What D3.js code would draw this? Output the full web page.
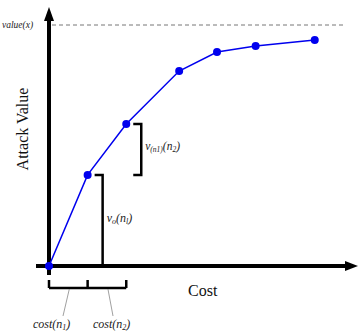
<!DOCTYPE html>
<html>
<head>
<meta charset="utf-8">
<script src="https://cdn.jsdelivr.net/npm/d3@7"></script>
<style>
  html, body { margin: 0; padding: 0; background: #fff; }
</style>
</head>
<body>
<svg id="chart" width="363" height="334"></svg>
<script>
// Cumulative cost of each step and the attack value reached
const costs  = [0, 1, 2, 3.37, 4.35, 5.35, 6.88];
const values = [0, 3.78, 5.89, 8.09, 8.88, 9.13, 9.38];
const maxValue = 10;           // value(x), the upper bound
const costTicks = [0, 1, 2];   // cost(n1), cost(n2) brackets

const serif = '"Liberation Serif"';
const svg = d3.select("#chart");
const x = d3.scaleLinear().domain([0, 8]).range([49, 358]);
const y = d3.scaleLinear().domain([0, 10]).range([266, 25]);

function label(px, py, size) {
  return svg.append("text")
    .attr("x", px).attr("y", py)
    .style("font-family", serif)
    .style("font-size", size + "px")
    .attr("fill", "#222");
}

// dashed upper bound
svg.append("line")
  .attr("x1", x(0) + 3).attr("x2", 346)
  .attr("y1", y(maxValue)).attr("y2", y(maxValue))
  .attr("stroke", "#777").attr("stroke-width", 1)
  .attr("stroke-dasharray", "4,3");
label(2, y(maxValue) + 3, 9.5).style("font-style", "italic").text("value(x)");

// axes with arrowheads
const axisW = 4;
svg.append("line")
  .attr("x1", 36).attr("x2", x.range()[1] - 10)
  .attr("y1", y(0)).attr("y2", y(0))
  .attr("stroke", "#000").attr("stroke-width", axisW);
svg.append("path")
  .attr("d", `M${x.range()[1]},${y(0)} L${x.range()[1] - 13},${y(0) - 5} L${x.range()[1] - 13},${y(0) + 5} Z`)
  .attr("fill", "#000");
svg.append("line")
  .attr("x1", x(0)).attr("x2", x(0))
  .attr("y1", 275).attr("y2", 18)
  .attr("stroke", "#000").attr("stroke-width", axisW);
svg.append("path")
  .attr("d", `M${x(0)},7 L${x(0) - 5},21 L${x(0) + 5},21 Z`)
  .attr("fill", "#000");

// axis titles
label(188, 296, 16).attr("fill", "#111").text("Cost");
label(0, 0, 16).attr("fill", "#111")
  .attr("transform", "translate(28,129) rotate(-90)")
  .attr("text-anchor", "middle")
  .text("Attack Value");

// value brackets
const bw = 2.5;
const i1 = 1, i2 = 2;
const bx1 = x(costs[i1]) + 15;
svg.append("path")
  .attr("d", `M${bx1 - 8},${y(values[i1])} H${bx1} V${y(0)}`)
  .attr("fill", "none").attr("stroke", "#000").attr("stroke-width", bw);
const vt1 = label(bx1 + 4, 222, 12).style("font-style", "italic");
vt1.append("tspan").text("v");
vt1.append("tspan").style("font-size", "8px").attr("dy", 2).text("o");
vt1.append("tspan").attr("dy", -2).text("(n");
vt1.append("tspan").style("font-size", "8px").attr("dy", 2).text("l");
vt1.append("tspan").attr("dy", -2).text(")");

const bx2 = x(costs[i2]) + 15;
svg.append("path")
  .attr("d", `M${bx2 - 8},${y(values[i2])} H${bx2} V${y(values[i1])} H${bx2 - 8}`)
  .attr("fill", "none").attr("stroke", "#000").attr("stroke-width", bw);
const vt2 = label(bx2 + 4, 150, 11.5).style("font-style", "italic");
vt2.append("tspan").text("v");
vt2.append("tspan").style("font-size", "7.5px").attr("dy", 2).text("(n1)");
vt2.append("tspan").attr("dy", -2).text("(n");
vt2.append("tspan").style("font-size", "7.5px").attr("dy", 2).text("2");
vt2.append("tspan").attr("dy", -2).text(")");

// cost brackets under the x axis
const cy = 288;
svg.append("path")
  .attr("d", `M${x(costTicks[0])},${cy} H${x(costTicks[2])}`)
  .attr("stroke", "#000").attr("stroke-width", bw).attr("fill", "none");
svg.selectAll("line.ctick").data(costTicks).enter().append("line")
  .attr("class", "ctick")
  .attr("x1", d => x(d)).attr("x2", d => x(d))
  .attr("y1", 280).attr("y2", cy)
  .attr("stroke", "#000").attr("stroke-width", bw);

const costLabels = [
  { mid: 0.5, lx: 63, tx: 33, label: "1" },
  { mid: 1.5, lx: 113, tx: 93, label: "2" }
];
svg.selectAll("line.lead").data(costLabels).enter().append("line")
  .attr("class", "lead")
  .attr("x1", d => x(d.mid) + 1).attr("y1", cy + 1)
  .attr("x2", d => d.lx).attr("y2", 316)
  .attr("stroke", "#888").attr("stroke-width", 0.8);
costLabels.forEach(d => {
  const t = label(d.tx, 328, 12).style("font-style", "italic");
  t.append("tspan").text("cost(n");
  t.append("tspan").style("font-size", "8px").attr("dy", 2).text(d.label);
  t.append("tspan").attr("dy", -2).text(")");
});

// value curve
const pts = costs.map((c, i) => [c, values[i]]);
svg.append("path")
  .datum(pts)
  .attr("d", d3.line().x(d => x(d[0])).y(d => y(d[1])))
  .attr("fill", "none").attr("stroke", "#0000ee").attr("stroke-width", 1.5);
svg.selectAll("circle.pt").data(pts).enter().append("circle")
  .attr("class", "pt")
  .attr("cx", d => x(d[0])).attr("cy", d => y(d[1]))
  .attr("r", 4).attr("fill", "#0000ee");
</script>
</body>
</html>
